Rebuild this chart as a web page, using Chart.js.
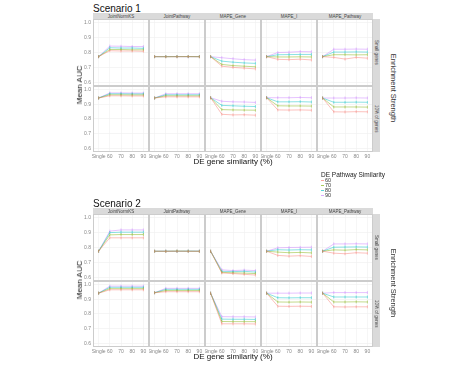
<!DOCTYPE html>
<html>
<head>
<meta charset="utf-8">
<script src="https://cdn.jsdelivr.net/npm/chart.js@4.4.1/dist/chart.umd.min.js"></script>
<style>
  body { margin: 0; background: #fff; }
  #fig { position: relative; width: 474px; height: 370px; overflow: hidden; font-family: "Liberation Sans", Arial, sans-serif; }
  #fig canvas { position: absolute; }
  .txt { position: absolute; white-space: nowrap; line-height: 1; }
  .strip { position: absolute; background: #dadada; color: #444; font-size: 4.5px; display: flex; align-items: center; justify-content: center; overflow: hidden; }
  .vert { writing-mode: vertical-rl; }
</style>
</head>
<body>
<div id="fig"></div>
<script>
const categories = ["Single", "60", "70", "80", "90"];
const similarities = ["60", "70", "80", "90"];
const seriesColors = ["rgba(248,118,109,0.65)", "rgba(124,174,0,0.65)", "rgba(0,191,196,0.65)", "rgba(199,124,255,0.65)"];
const methods = ["JointNormKS", "JointPathway", "MAPE_Gene", "MAPE_I", "MAPE_Pathway"];
const strengths = ["Small genes", "10% of genes"];
const yTicks = [0.6, 0.7, 0.8, 0.9, 1.0];

// per method: series for pathway similarity 60, 70, 80, 90
const s1Top = [
  [[0.772,0.812,0.81,0.81,0.808],[0.772,0.82,0.82,0.818,0.818],[0.772,0.832,0.83,0.83,0.828],[0.772,0.843,0.842,0.84,0.84]],
  [[0.772,0.771,0.772,0.772,0.771],[0.772,0.772,0.772,0.773,0.772],[0.772,0.772,0.773,0.772,0.772],[0.772,0.773,0.772,0.772,0.773]],
  [[0.772,0.708,0.7,0.695,0.69],[0.772,0.72,0.712,0.708,0.704],[0.772,0.742,0.735,0.73,0.727],[0.772,0.765,0.758,0.752,0.749]],
  [[0.772,0.754,0.752,0.755,0.75],[0.772,0.77,0.77,0.771,0.77],[0.772,0.785,0.786,0.787,0.787],[0.772,0.8,0.802,0.806,0.805]],
  [[0.772,0.767,0.756,0.767,0.762],[0.772,0.785,0.785,0.784,0.785],[0.772,0.803,0.803,0.804,0.803],[0.772,0.822,0.822,0.823,0.822]]
];
const s1Bottom = [
  [[0.943,0.958,0.958,0.957,0.957],[0.943,0.965,0.965,0.964,0.964],[0.943,0.972,0.972,0.971,0.971],[0.943,0.978,0.978,0.977,0.977]],
  [[0.943,0.951,0.951,0.951,0.951],[0.943,0.958,0.958,0.958,0.958],[0.943,0.965,0.965,0.965,0.965],[0.943,0.972,0.972,0.972,0.972]],
  [[0.945,0.832,0.828,0.829,0.826],[0.945,0.864,0.862,0.861,0.86],[0.945,0.893,0.89,0.887,0.885],[0.945,0.921,0.917,0.916,0.913]],
  [[0.945,0.862,0.861,0.862,0.86],[0.945,0.89,0.889,0.889,0.888],[0.945,0.917,0.917,0.918,0.916],[0.945,0.945,0.945,0.947,0.945]],
  [[0.943,0.849,0.848,0.85,0.849],[0.943,0.882,0.882,0.882,0.881],[0.943,0.914,0.914,0.915,0.914],[0.943,0.943,0.943,0.944,0.943]]
];
const s2Top = [
  [[0.775,0.865,0.865,0.865,0.865],[0.775,0.885,0.887,0.887,0.887],[0.775,0.9,0.903,0.903,0.903],[0.775,0.91,0.918,0.918,0.918]],
  [[0.775,0.774,0.775,0.775,0.774],[0.775,0.775,0.776,0.775,0.775],[0.775,0.775,0.775,0.776,0.775],[0.775,0.776,0.775,0.775,0.776]],
  [[0.775,0.629,0.625,0.62,0.615],[0.775,0.633,0.63,0.628,0.625],[0.775,0.64,0.638,0.64,0.635],[0.775,0.65,0.645,0.648,0.645]],
  [[0.775,0.747,0.742,0.745,0.74],[0.775,0.769,0.765,0.767,0.764],[0.775,0.785,0.783,0.785,0.784],[0.775,0.798,0.8,0.801,0.802]],
  [[0.775,0.762,0.758,0.765,0.762],[0.775,0.784,0.782,0.786,0.784],[0.775,0.802,0.803,0.804,0.803],[0.775,0.824,0.824,0.825,0.824]]
];
const s2Bottom = [
  [[0.942,0.965,0.965,0.965,0.965],[0.942,0.973,0.973,0.973,0.973],[0.942,0.982,0.982,0.982,0.982],[0.942,0.99,0.99,0.99,0.99]],
  [[0.945,0.952,0.952,0.952,0.952],[0.945,0.96,0.96,0.96,0.96],[0.945,0.968,0.968,0.968,0.968],[0.945,0.975,0.975,0.975,0.975]],
  [[0.942,0.733,0.733,0.733,0.732],[0.942,0.749,0.748,0.748,0.748],[0.942,0.765,0.764,0.764,0.763],[0.942,0.782,0.781,0.781,0.78]],
  [[0.942,0.853,0.852,0.853,0.852],[0.942,0.882,0.881,0.882,0.881],[0.942,0.911,0.91,0.911,0.911],[0.942,0.942,0.942,0.943,0.943]],
  [[0.942,0.849,0.848,0.849,0.849],[0.942,0.882,0.882,0.883,0.882],[0.942,0.916,0.916,0.916,0.916],[0.942,0.946,0.946,0.946,0.946]]
];

const fig = document.getElementById("fig");
const colLeft = [93, 149, 205, 261, 317];
const colW = 56;
const rowTop = [19, 86];
const rowH = [67, 66];
const yAxisW = 12;
const xAxisH = 7;

function txt(text, css, cls) {
  const d = document.createElement("div");
  d.className = "txt" + (cls ? " " + cls : "");
  d.textContent = text;
  Object.assign(d.style, css);
  fig.appendChild(d);
  return d;
}

const panelBorder = {
  id: "panelBorder",
  afterDraw(chart) {
    const { ctx, chartArea: a } = chart;
    ctx.save();
    ctx.strokeStyle = "#cccccc";
    ctx.lineWidth = 1;
    ctx.strokeRect(a.left + 0.5, a.top + 0.5, a.right - a.left - 1, a.bottom - a.top - 1);
    ctx.restore();
  }
};

function panel(series, c, r, oy) {
  const first = c === 0, bottom = r === 1;
  const canvas = document.createElement("canvas");
  const w = colW + (first ? yAxisW : 0);
  const h = rowH[r] + (bottom ? xAxisH : 0);
  canvas.width = w; canvas.height = h;
  canvas.style.left = (colLeft[c] - (first ? yAxisW : 0)) + "px";
  canvas.style.top = (rowTop[r] + oy) + "px";
  canvas.style.width = w + "px"; canvas.style.height = h + "px";
  fig.appendChild(canvas);

  new Chart(canvas, {
    type: "line",
    data: {
      labels: categories,
      datasets: series.map((vals, i) => ({
        label: similarities[i],
        data: vals,
        borderColor: seriesColors[i],
        backgroundColor: seriesColors[i],
        borderWidth: 0.7,
        pointStyle: "line",
        pointRotation: 90,
        pointRadius: 1.5,
        pointBorderWidth: 0.7,
        tension: 0
      }))
    },
    options: {
      responsive: false,
      animation: false,
      devicePixelRatio: 1,
      layout: { padding: 0, autoPadding: false },
      plugins: { legend: { display: false }, tooltip: { enabled: false } },
      scales: {
        x: {
          offset: true,
          grid: { offset: false, color: "#f0f0f0", lineWidth: 0.6, drawTicks: false },
          border: { display: false },
          ticks: { display: bottom, font: { size: 5, family: "Liberation Sans" }, color: "#888", padding: 1.5, maxRotation: 0, autoSkip: false },
          afterFit: s => { s.height = bottom ? xAxisH : 0; s.paddingLeft = 0; s.paddingRight = 0; }
        },
        y: {
          min: 0.575,
          max: 1.025,
          grid: { color: "#eeeeee", lineWidth: 0.6, drawTicks: false },
          border: { display: false },
          afterBuildTicks: s => { s.ticks = yTicks.map(v => ({ value: v })); },
          ticks: { display: first, font: { size: 5, family: "Liberation Sans" }, color: "#888", padding: 2, callback: v => v.toFixed(1) },
          afterFit: s => { s.width = first ? yAxisW : 0; s.paddingTop = 0; s.paddingBottom = 0; }
        }
      }
    },
    plugins: [panelBorder]
  });
}

function scenario(title, rows, oy) {
  txt(title, { left: "93px", top: (4 + oy) + "px", fontSize: "10px", color: "#111" });
  methods.forEach((m, c) => {
    const s = document.createElement("div");
    s.className = "strip";
    s.textContent = m;
    Object.assign(s.style, { left: colLeft[c] + "px", top: (13 + oy) + "px", width: colW + "px", height: "6px" });
    fig.appendChild(s);
    rows.forEach((rowData, r) => panel(rowData[c], c, r, oy));
  });
  strengths.forEach((st, r) => {
    const s = document.createElement("div");
    s.className = "strip vert";
    s.textContent = st;
    Object.assign(s.style, { left: "373px", top: (rowTop[r] + oy) + "px", width: "7px", height: rowH[r] + "px" });
    fig.appendChild(s);
  });
  const yt = txt("Mean AUC", { fontSize: "8px", color: "#111", left: "76px", top: (85 + oy) + "px" }, "vert");
  yt.style.transform = "translateY(-50%) rotate(180deg)";
  const et = txt("Enrichment Strength", { fontSize: "7.5px", color: "#333", left: "389px", top: (88 + oy) + "px" }, "vert");
  et.style.transform = "translateY(-50%)";
  const xt = txt("DE gene similarity (%)", { fontSize: "8px", color: "#111", left: "233px", top: (162 + oy) + "px" });
  xt.style.transform = "translate(-50%, -50%)";
}

scenario("Scenario 1", [s1Top, s1Bottom], 0);
scenario("Scenario 2", [s2Top, s2Bottom], 195);

// legend
txt("DE Pathway Similarity", { left: "321px", top: "172px", fontSize: "6.5px", color: "#222" });
similarities.forEach((s, i) => {
  const y = 178 + i * 5;
  const key = document.createElement("div");
  Object.assign(key.style, { position: "absolute", left: "321px", top: (y + 2) + "px", width: "3px", height: "1px", background: seriesColors[i] });
  fig.appendChild(key);
  txt(s, { left: "325px", top: y + "px", fontSize: "5.5px", color: "#333" });
});
</script>
</body>
</html>
